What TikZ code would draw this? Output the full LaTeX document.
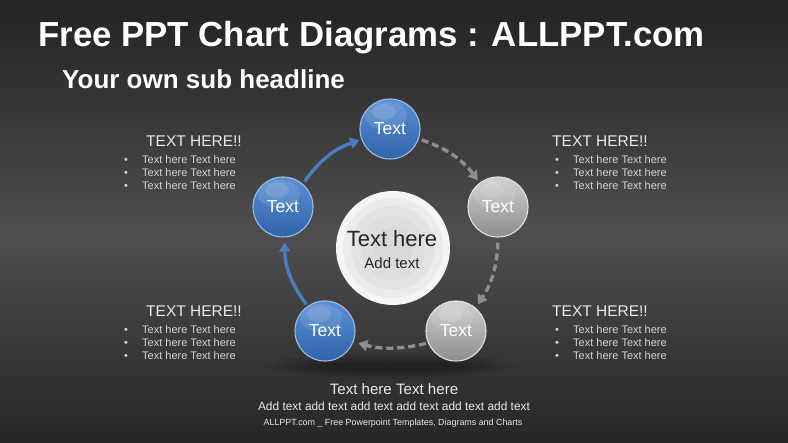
\documentclass[tikz,border=0pt]{standalone}
\usepackage{fontspec}
\setmainfont{Liberation Sans}
\usetikzlibrary{arrows.meta,calc}
\definecolor{bgtop}{HTML}{232323}
\definecolor{bgmid}{HTML}{4E4E4E}
\definecolor{bgbot}{HTML}{262626}
\definecolor{bluetop}{HTML}{5A90D3}
\definecolor{bluebot}{HTML}{2F63AA}
\definecolor{bluerim}{HTML}{9FBCDD}
\definecolor{graytop}{HTML}{CFCFCF}
\definecolor{graybot}{HTML}{8E8E8E}
\definecolor{grayrim}{HTML}{E2E2E2}
\definecolor{arrowblue}{HTML}{4A7DC0}
\definecolor{arrowgray}{HTML}{8E8E8E}
\definecolor{txtlight}{HTML}{E8E8E8}
\definecolor{bultxt}{HTML}{D4D4D4}
\tikzset{
  ball/.style={circle, minimum size=60pt, inner sep=0pt, line width=1.1pt,
    font=\fontsize{17.5}{18}\selectfont, text=white,
    path picture={
      \fill[white,opacity=.10] ($(path picture bounding box.center)+(-4,-13)$) ellipse (21pt and 14pt);
      \fill[white,opacity=.12] ($(path picture bounding box.center)+(-6,-17)$) ellipse (12pt and 8pt);}},
  blueball/.style={ball, draw=bluerim, top color=bluetop, bottom color=bluebot},
  grayball/.style={ball, draw=grayrim, top color=graytop, bottom color=graybot},
  bluearrow/.style={draw=arrowblue, line width=3.4pt, -{Triangle[width=11pt,length=9pt]}},
  grayarrow/.style={draw=arrowgray, line width=3.4pt, dash pattern=on 7pt off 4pt, -{Triangle[width=11pt,length=9pt]}},
  heading/.style={anchor=base west, inner sep=0pt, text=txtlight, font=\fontsize{15.5}{18}\selectfont},
  bullets/.style={anchor=north west, inner sep=0pt, text=bultxt, align=left, font=\fontsize{11}{13}\selectfont},
}
\newcommand{\bl}{\makebox[18pt][l]{\textbullet}Text here Text here}
\begin{document}
\begin{tikzpicture}[x=1pt,y=-1pt]
\useasboundingbox (0,0) rectangle (788,443);
\shade[top color=bgtop, bottom color=bgmid] (0,0) rectangle (788,235);
\shade[top color=bgmid, bottom color=bgbot] (0,235) rectangle (788,443);
% title
\node[anchor=base west, inner sep=0pt, text=white, font=\bfseries\fontsize{34.8}{36}\selectfont] (title) at (38,47) {Free PPT Chart Diagrams : ALLPPT.com};
\node[anchor=base west, inner sep=0pt, text=white, font=\bfseries\fontsize{26}{28}\selectfont] (sub) at (62,89) {Your own sub headline};
% shadow
\foreach \rx/\ry in {125/13,115/11.5,105/10,95/8.5,85/7,75/5.5,65/4}
  \fill[black,opacity=.055] (390,366) ellipse (\rx pt and \ry pt);
% center circle
\fill[white!92!gray] (393,248) circle (57pt);
\fill[white!84!gray] (393,248) circle (50pt);
\fill[white!78!gray] (393,248) circle (42pt);
\fill[white!74!gray] (393,248) circle (32pt);
\fill[white!70!gray] (393,248) circle (20pt);
\node[anchor=base, inner sep=0pt, text=black!85, font=\fontsize{22}{24}\selectfont] (center) at (392,247) {Text here};
\node[anchor=base, inner sep=0pt, text=black!85, font=\fontsize{15}{18}\selectfont] (centersub) at (392,268.5) {Add text};
% balls
\node[blueball] (b1) at (390,129) {Text};
\node[grayball] (b2) at (498,207) {Text};
\node[grayball] (b3) at (456,331) {Text};
\node[blueball] (b4) at (325,331) {Text};
\node[blueball] (b5) at (283,207) {Text};
% connectors
\draw[grayarrow, shorten <=3pt, shorten >=3pt] (b1.-19) to[bend left=17] (b2.127);
\draw[grayarrow, shorten <=5pt, shorten >=4pt] (b2.-90) to[bend left=16] (b3.50);
\draw[grayarrow, shorten <=2pt, shorten >=5pt] (b3.-157) to[bend left=14] (b4.-21);
\draw[bluearrow, shorten <=2pt, shorten >=5pt] (b4.125) to[bend left=18] (b5.-87);
\draw[bluearrow, shorten <=3pt, shorten >=2pt] (b5.49) to[bend left=18] (b1.-160);
% text blocks
\node[heading] (h1) at (146,146.5) {TEXT HERE!!};
\node[bullets] (l1) at (124,155) {\bl\\\bl\\\bl};
\node[heading] (h2) at (552,146.5) {TEXT HERE!!};
\node[bullets] (l2) at (555,155) {\bl\\\bl\\\bl};
\node[heading] (h3) at (146,317) {TEXT HERE!!};
\node[bullets] (l3) at (124,325.5) {\bl\\\bl\\\bl};
\node[heading] (h4) at (552,317) {TEXT HERE!!};
\node[bullets] (l4) at (555,325.5) {\bl\\\bl\\\bl};
% bottom text
\node[anchor=base, inner sep=0pt, text=txtlight, font=\fontsize{15.1}{18}\selectfont] (bt1) at (394,395) {Text here Text here};
\node[anchor=base, inner sep=0pt, text=txtlight, font=\fontsize{11.9}{13}\selectfont] (bt2) at (394,411) {Add text add text add text add text add text add text};
\node[anchor=base, inner sep=0pt, text=txtlight, font=\fontsize{8.9}{10}\selectfont] (bt3) at (393,425.5) {ALLPPT.com \_ Free Powerpoint Templates, Diagrams and Charts};
\end{tikzpicture}
\end{document}
